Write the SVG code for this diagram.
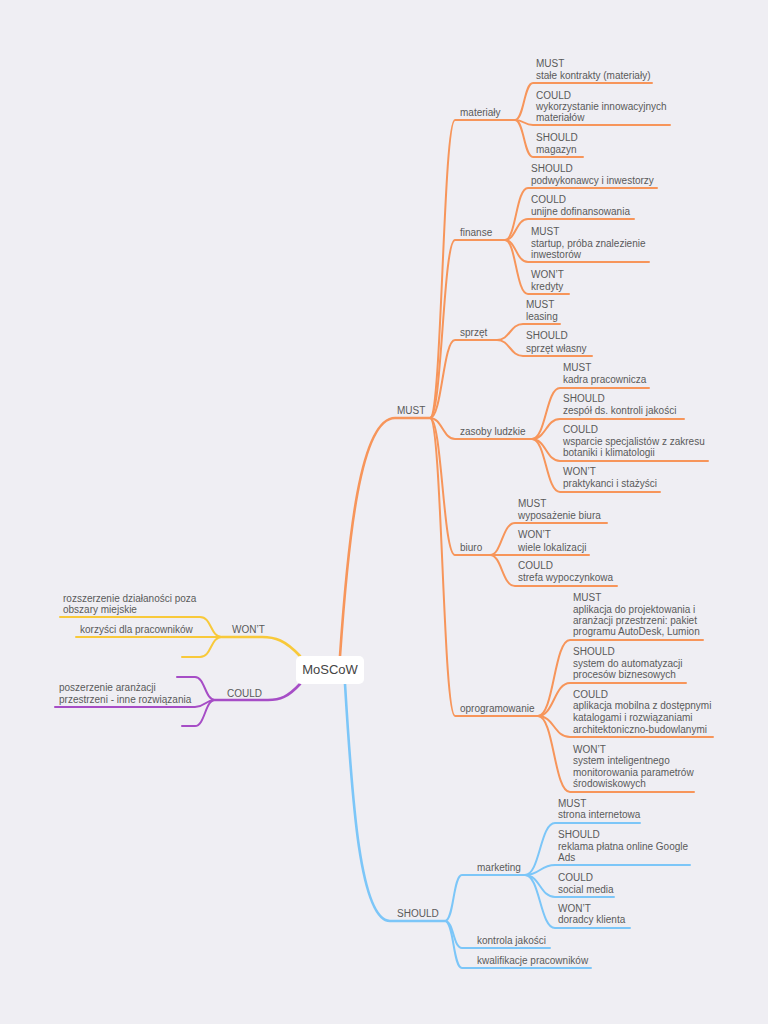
<svg xmlns="http://www.w3.org/2000/svg" width="768" height="1024" viewBox="0 0 768 1024">
<style>
text{font-family:"Liberation Sans",Arial,sans-serif;font-size:10px;fill:#5a5a5a}
.o{stroke:#f7955a}.b{stroke:#7cc6f8}.y{stroke:#f8c93a}.p{stroke:#a64dc6}
path{fill:none;stroke-width:2;stroke-linecap:round}
.t{stroke-width:2.6}
</style>
<rect width="768" height="1024" fill="#efeef3"/>
<g id="connectors">
<path class="o t" d="M340 656 C348 540 360 418 395 418 H430"/>
<path class="b t" d="M345 684 C352 800 360 921 390 921 H445"/>
<path class="y t" d="M300 656 C285 640 275 637 262 637 H222"/>
<path class="p t" d="M300 684 C288 697 280 700 268 700 H215"/>
<g class="o">
<path d="M430 418 C442 418 443 120 455 120 H515"/>
<path d="M430 418 C442 418 443 240 455 240 H505"/>
<path d="M430 418 C442 418 443 340 455 340 H497"/>
<path d="M430 418 C442 418 443 439 455 439 H532"/>
<path d="M430 418 C442 418 443 555 455 555 H490"/>
<path d="M430 418 C442 418 443 716 455 716 H538"/>
<path d="M515 120 C524 120 524 83 533 83 H652"/>
<path d="M515 120 C524 120 524 125 533 125 H670"/>
<path d="M515 120 C524 120 524 157 533 157 H583"/>
<path d="M505 240 C516 240 516 188 528 188 H657"/>
<path d="M505 240 C516 240 516 219 528 219 H634"/>
<path d="M505 240 C516 240 516 262 528 262 H649"/>
<path d="M505 240 C516 240 516 294 528 294 H569"/>
<path d="M497 340 C510 340 510 324 523 324 H560"/>
<path d="M497 340 C510 340 510 356 523 356 H592"/>
<path d="M532 439 C546 439 546 388 560 388 H649"/>
<path d="M532 439 C546 439 546 419 560 419 H684"/>
<path d="M532 439 C546 439 546 461 560 461 H708"/>
<path d="M532 439 C546 439 546 492 560 492 H660"/>
<path d="M490 555 C502 555 502 523 515 523 H607"/>
<path d="M490 555 C502 555 502 555 515 555 H589"/>
<path d="M490 555 C502 555 502 586 515 586 H617"/>
<path d="M538 716 C554 716 554 640 570 640 H703"/>
<path d="M538 716 C554 716 554 683 570 683 H686"/>
<path d="M538 716 C554 716 554 737 570 737 H713"/>
<path d="M538 716 C554 716 554 792 570 792 H694"/>
</g>
<g class="b">
<path d="M445 921 C454 921 453 875 462 875 H525"/>
<path d="M445 921 C454 921 453 948 462 948 H550"/>
<path d="M445 921 C454 921 453 968 462 968 H591"/>
<path d="M525 875 C540 875 540 823 555 823 H640"/>
<path d="M525 875 C540 875 540 865 555 865 H690"/>
<path d="M525 875 C540 875 540 897 555 897 H614"/>
<path d="M525 875 C540 875 540 928 555 928 H630"/>
</g>
<g class="y">
<path d="M222 637 C210 637 212 617 200 617 H60"/>
<path d="M222 637 H76"/>
<path d="M222 637 C210 637 212 657 200 657 H182"/>
</g>
<g class="p">
<path d="M215 700 C205 700 205 677 195 677 H177"/>
<path d="M215 700 C205 700 205 707 195 707 H55"/>
<path d="M215 700 C205 700 205 726 195 726 H182"/>
</g>
</g>
<g id="root"><rect x="296" y="656" width="68" height="28" rx="5" fill="#fff"/><text x="330" y="674" text-anchor="middle" style="font-size:13px;fill:#444">MoSCoW</text></g>
<g id="must"><text x="397" y="414">MUST</text></g>
<g id="should"><text x="397" y="917">SHOULD</text></g>
<g id="wont"><text x="232" y="633">WON’T</text></g>
<g id="could"><text x="227" y="697">COULD</text></g>
<g id="materialy"><text x="460" y="116">materiały</text>
<text x="536" y="67">MUST</text><text x="536" y="79">stałe kontrakty (materiały)</text>
<text x="536" y="99">COULD</text><text x="536" y="110">wykorzystanie innowacyjnych</text><text x="536" y="121">materiałów</text>
<text x="536" y="141">SHOULD</text><text x="536" y="153">magazyn</text></g>
<g id="finanse"><text x="460" y="236">finanse</text>
<text x="531" y="172">SHOULD</text><text x="531" y="184">podwykonawcy i inwestorzy</text>
<text x="531" y="203">COULD</text><text x="531" y="215">unijne dofinansowania</text>
<text x="531" y="235">MUST</text><text x="531" y="247">startup, próba znalezienie</text><text x="531" y="258">inwestorów</text>
<text x="531" y="278">WON’T</text><text x="531" y="290">kredyty</text></g>
<g id="sprzet"><text x="460" y="336">sprzęt</text>
<text x="526" y="308">MUST</text><text x="526" y="320">leasing</text>
<text x="526" y="339">SHOULD</text><text x="526" y="352">sprzęt własny</text></g>
<g id="zasoby"><text x="460" y="435">zasoby ludzkie</text>
<text x="563" y="371">MUST</text><text x="563" y="383">kadra pracownicza</text>
<text x="563" y="402">SHOULD</text><text x="563" y="414">zespół ds. kontroli jakości</text>
<text x="563" y="433">COULD</text><text x="563" y="445">wsparcie specjalistów z zakresu</text><text x="563" y="456">botaniki i klimatologii</text>
<text x="563" y="475">WON’T</text><text x="563" y="487">praktykanci i stażyści</text></g>
<g id="biuro"><text x="460" y="551">biuro</text>
<text x="518" y="507">MUST</text><text x="518" y="519">wyposażenie biura</text>
<text x="518" y="538">WON’T</text><text x="518" y="551">wiele lokalizacji</text>
<text x="518" y="569">COULD</text><text x="518" y="581">strefa wypoczynkowa</text></g>
<g id="oprogramowanie"><text x="460" y="712">oprogramowanie</text>
<text x="573" y="601">MUST</text><text x="573" y="613">aplikacja do projektowania i</text><text x="573" y="624">aranżacji przestrzeni: pakiet</text><text x="573" y="635">programu AutoDesk, Lumion</text>
<text x="573" y="655">SHOULD</text><text x="573" y="667">system do automatyzacji</text><text x="573" y="678">procesów biznesowych</text>
<text x="573" y="698">COULD</text><text x="573" y="709">aplikacja mobilna z dostępnymi</text><text x="573" y="721">katalogami i rozwiązaniami</text><text x="573" y="733">architektoniczno-budowlanymi</text>
<text x="573" y="753">WON’T</text><text x="573" y="764">system inteligentnego</text><text x="573" y="776">monitorowania parametrów</text><text x="573" y="787">środowiskowych</text></g>
<g id="marketing"><text x="477" y="871">marketing</text>
<text x="558" y="807">MUST</text><text x="558" y="818">strona internetowa</text>
<text x="558" y="838">SHOULD</text><text x="558" y="850">reklama płatna online Google</text><text x="558" y="861">Ads</text>
<text x="558" y="881">COULD</text><text x="558" y="893">social media</text>
<text x="558" y="912">WON’T</text><text x="558" y="923">doradcy klienta</text></g>
<g id="kontrola"><text x="477" y="944">kontrola jakości</text></g>
<g id="kwalifikacje"><text x="477" y="964">kwalifikacje pracowników</text></g>
<g id="wont-items"><text x="63" y="602">rozszerzenie działaności poza</text><text x="63" y="613">obszary miejskie</text>
<text x="80" y="633">korzyści dla pracowników</text></g>
<g id="could-items"><text x="59" y="691">poszerzenie aranżacji</text><text x="59" y="703">przestrzeni - inne rozwiązania</text></g>
</svg>
